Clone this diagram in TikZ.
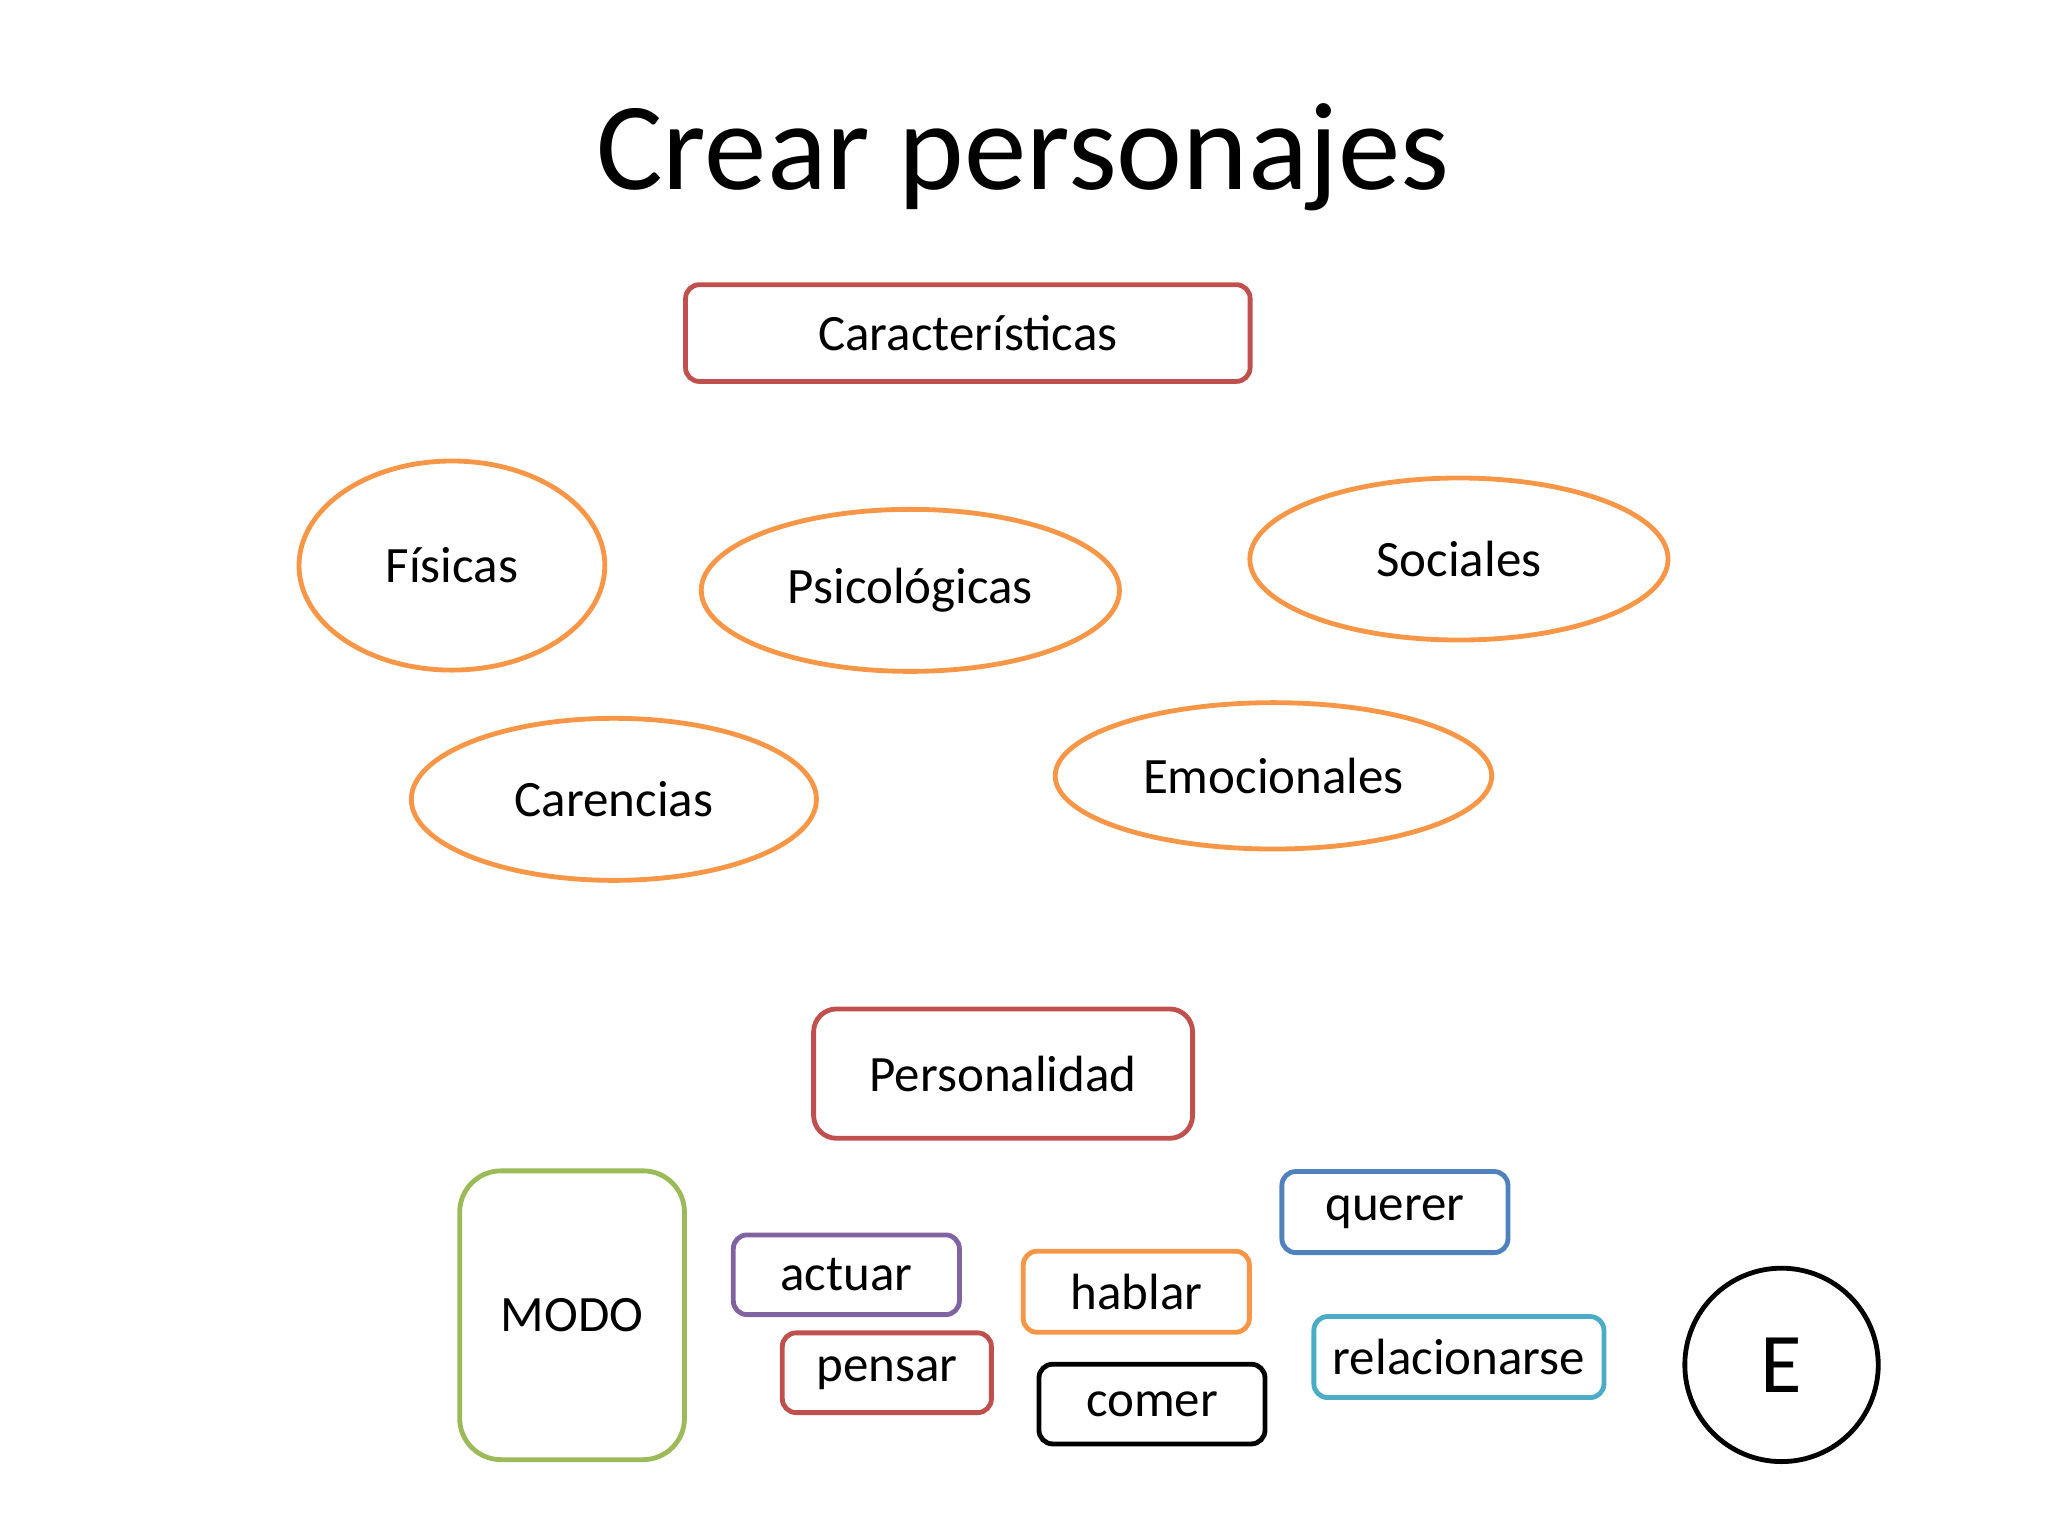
\documentclass[tikz,border=0pt]{standalone}
\usepackage{fontspec}
\setmainfont{Carlito}
\usetikzlibrary{shapes.geometric}
\definecolor{cred}{HTML}{C0504D}
\definecolor{corange}{HTML}{F79646}
\definecolor{cgreen}{HTML}{9BBB59}
\definecolor{cpurple}{HTML}{8064A2}
\definecolor{cblue}{HTML}{4F81BD}
\definecolor{ccyan}{HTML}{4BACC6}
\tikzset{
 box/.style={draw=#1, line width=1.05pt, rounded corners=3pt, inner sep=0pt, font=\fontsize{11.1}{13}\selectfont},
 oval/.style={draw=corange, line width=1.05pt, ellipse, inner sep=0pt, font=\fontsize{11.1}{13}\selectfont},
}
\begin{document}
\begin{tikzpicture}[x=0.01cm,y=-0.01cm]
\useasboundingbox (0,0) rectangle (1568,1176);
\node (title) at (783,120) {\fontsize{27.2}{31}\selectfont Crear personajes};
\node[box=cred, minimum width=4.32cm, minimum height=0.74cm] (car) at (741,255) {Características};
\node[oval, minimum width=2.34cm, minimum height=1.6cm] (fis) at (346,433) {Físicas};
\node[oval, minimum width=3.2cm, minimum height=1.24cm] (psi) at (697,452) {Psicológicas};
\node[oval, minimum width=3.2cm, minimum height=1.24cm] (soc) at (1117,428) {Sociales};
\node[oval, minimum width=3.1cm, minimum height=1.24cm] (carn) at (470,612) {Carencias};
\node[oval, minimum width=3.34cm, minimum height=1.12cm] (emo) at (975,594) {Emocionales};
\node[box=cred, rounded corners=5pt, minimum width=2.9cm, minimum height=0.99cm] (per) at (768,822) {Personalidad};
\node[box=cgreen, rounded corners=9pt, minimum width=1.72cm, minimum height=2.21cm] (modo) at (438,1007) {MODO};
\node[box=cpurple, minimum width=1.73cm, minimum height=0.61cm] (act) at (648,976) {actuar};
\node[box=cred, minimum width=1.6cm, minimum height=0.61cm] (pen) at (679,1051) {pensar};
\node[box=corange, minimum width=1.73cm, minimum height=0.62cm] (hab) at (870,989) {hablar};
\node[box=black, minimum width=1.73cm, minimum height=0.61cm] (com) at (882,1075) {comer};
\node[box=cblue, minimum width=1.73cm, minimum height=0.62cm] (que) at (1068,928) {querer};
\node[box=ccyan, minimum width=2.22cm, minimum height=0.62cm] (rel) at (1117,1039) {relacionarse};
\node[draw=black, line width=1.05pt, circle, minimum size=1.48cm, inner sep=0pt, font=\fontsize{18.5}{20}\selectfont] (e) at (1364,1045) {E};
\end{tikzpicture}
\end{document}
